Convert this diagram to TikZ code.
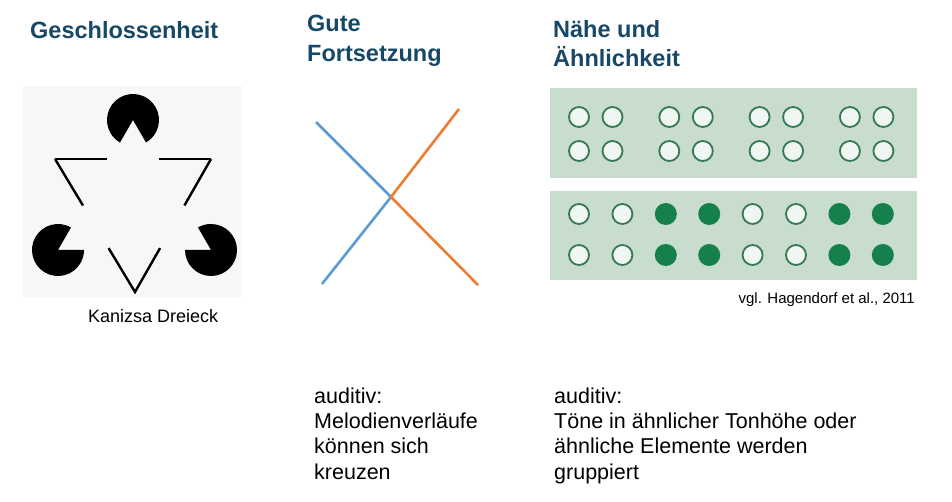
\documentclass[tikz,border=0pt]{standalone}
\usepackage{fontspec}
\setmainfont{Liberation Sans}
\usetikzlibrary{calc}
\definecolor{titleblue}{RGB}{23,72,104}
\definecolor{panelgreen}{RGB}{200,221,205}
\definecolor{dotline}{RGB}{52,120,84}
\definecolor{dotfill}{RGB}{240,247,242}
\definecolor{dotdark}{RGB}{22,128,76}
\definecolor{lineblue}{RGB}{91,155,213}
\definecolor{lineorange}{RGB}{237,125,49}
\begin{document}
\begin{tikzpicture}[x = 1pt, y = 1pt,
    title/.style = {font = \bfseries\fontsize{23.5}{29.5}\selectfont, text = titleblue,
      align = left, anchor = north west, inner sep = 0pt},
    body/.style = {font = \fontsize{21.5}{25.3}\selectfont, align = left,
      anchor = north west, inner sep = 0pt},
    opendot/.style = {circle, draw = dotline, line width = 1.8pt, fill = dotfill,
      minimum size = 20pt, inner sep = 0pt},
    fulldot/.style = {circle, fill = dotdark, minimum size = 22pt, inner sep = 0pt}]
      \useasboundingbox (0,0) rectangle (952,-502);

      % titles
      \node[title] (closure) at (30,-21) {Geschlossenheit};
      \node[title] (continuation) at (307,-15) {Gute\\Fortsetzung};
      \node[title] (proximity) at (553,-20) {Nähe und\\Ähnlichkeit};

      % Kanizsa
      \fill[black!3] (23,-86) rectangle (242,-297);
      \coordinate (pacT) at (133,-120);
      \coordinate (pacL) at (58,-250);
      \coordinate (pacR) at (211,-250);
      \fill (pacT) -- ++(300:26) arc (300:600:26) -- cycle;
      \fill (pacL) -- ++(60:26) arc (60:360:26) -- cycle;
      \fill (pacR) -- ++(180:26) arc (180:480:26) -- cycle;
      \coordinate (triL) at (55,-159);
      \coordinate (triR) at (211,-159);
      \coordinate (triB) at (135,-292);
      \draw[line width = 2.4pt] (triL) -- ($(triL)!0.335!(triR)$);
      \draw[line width = 2.4pt] ($(triL)!0.665!(triR)$) -- (triR);
      \draw[line width = 2.4pt] (triL) -- ($(triL)!0.35!(triB)$);
      \draw[line width = 2.4pt] (triR) -- ($(triR)!0.35!(triB)$);
      \draw[line width = 2.4pt] ($(triB)!0.33!(triL)$) -- (triB) -- ($(triB)!0.33!(triR)$);
      \node[font = \fontsize{18}{22}\selectfont, anchor = base west, inner sep = 0pt]
        (kanizsa) at (88,-322) {Kanizsa Dreieck};

      % crossing lines
      \coordinate (cross) at (391,-197);
      \coordinate (blueA) at (316,-122);
      \coordinate (blueB) at (322,-284);
      \coordinate (orangeA) at (459,-109);
      \coordinate (orangeB) at (478,-285);
      \draw[lineblue, line width = 2.6pt] (blueA) -- (cross) -- (blueB);
      \draw[lineorange, line width = 2.6pt] (orangeA) -- (cross) -- (orangeB);

      % dots
      \fill[panelgreen] (550,-88) rectangle (917,-178);
      \fill[panelgreen] (550,-191) rectangle (917,-280);
      \foreach \g in {0,...,3}
        \foreach \k in {0,1}
          \foreach \r/\y in {1/117,2/151}
            \node[opendot] (near-\g-\k-\r) at (579+90.3*\g+33.5*\k,-\y) {};
      \foreach \i in {0,...,7}
        \foreach \r/\y in {1/214,2/255} {
          \pgfmathtruncatemacro\kind{mod(\i,4)>1}
          \ifnum\kind=1
            \node[fulldot] (like-\i-\r) at (579+43.4*\i,-\y) {};
          \else
            \node[opendot] (like-\i-\r) at (579+43.4*\i,-\y) {};
          \fi
        }
      \node[font = \fontsize{15}{18}\selectfont, anchor = base east, inner sep = 0pt]
        (source) at (915,-303) {vgl. Hagendorf et al., 2011};

      % auditory
      \node[body] (melody) at (314,-387.5) {auditiv:\\Melodienverläufe\\können sich\\kreuzen};
      \node[body] (tones) at (554,-387.5) {auditiv:\\Töne in ähnlicher Tonhöhe oder\\ähnliche Elemente werden\\gruppiert};
    \end{tikzpicture}
\end{document}
